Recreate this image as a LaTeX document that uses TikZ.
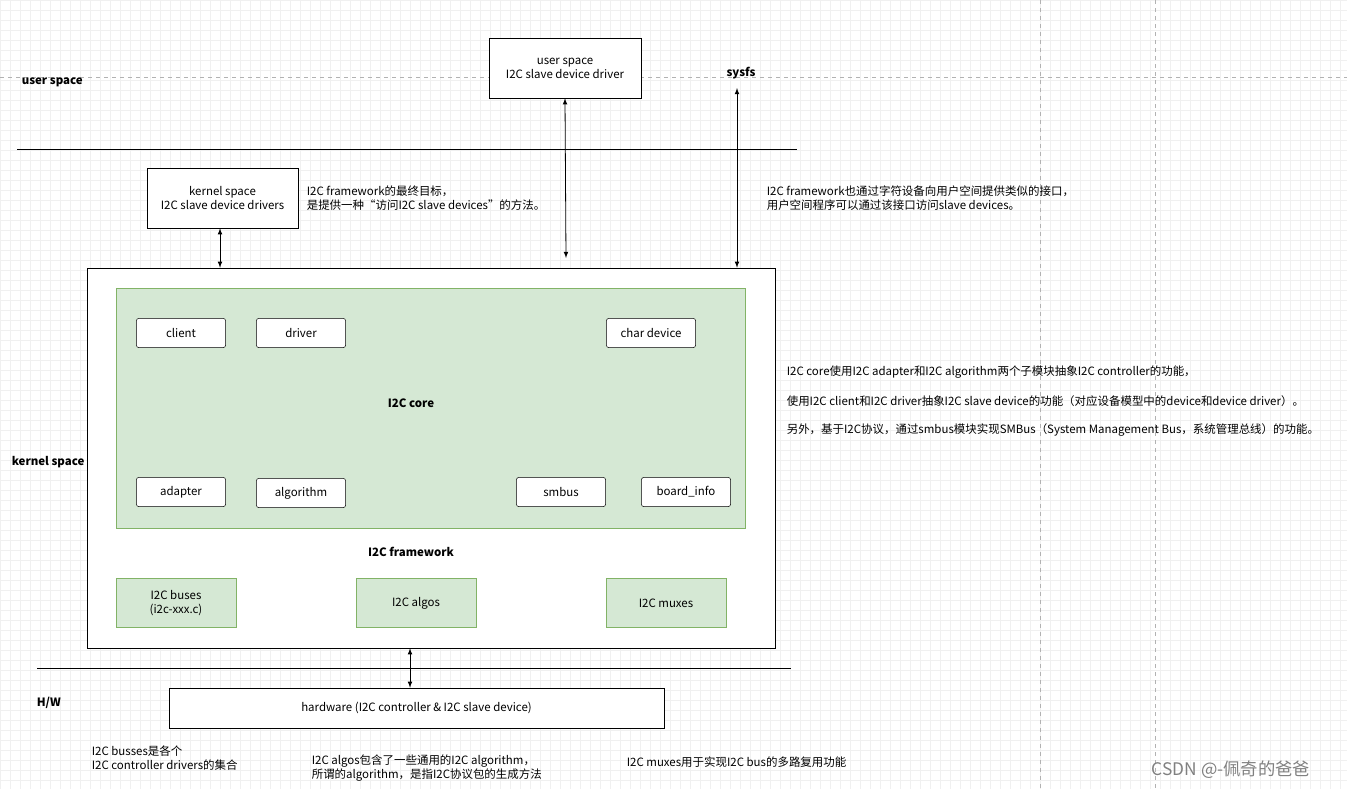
\documentclass[tikz,border=0pt]{standalone}
\usepackage{fontspec}
\setmainfont{Noto Sans CJK SC}
\usetikzlibrary{positioning,arrows}
\definecolor{corefill}{RGB}{213,232,212}
\definecolor{coredraw}{RGB}{130,179,102}
\begin{document}
\begin{tikzpicture}[x=0.75pt,y=-0.75pt,inner sep=0.4mm,font=\fontsize{8.6}{10.5}\selectfont,
  box/.style={draw,fill=white,align=center},
  core/.style={draw=coredraw,fill=corefill,align=center},
  small/.style={draw,fill=white,rounded corners=2pt,minimum width=67pt,minimum height=22pt},
  note/.style={align=left,anchor=west},
  lbl/.style={font=\fontsize{8.6}{10.5}\selectfont\bfseries},
  link/.style={latex-latex,semithick}]
	\useasboundingbox (0,0) rectangle (1347,789);
	% grid
	\draw [gray!12] (0,0) grid[step=7.5pt] (1347,789);
	\draw [gray!60,dashed] (0,77) -- (1347,77) (1040,0) -- (1040,789) (1155,0) -- (1155,789);

	\draw (17,149) -- (797,149);
	\draw (37,668) -- (791,668);

	\node [lbl,anchor=west] (usr) at (20,82) {user space};
	\node [lbl,anchor=west] (krn) at (10,462) {kernel space};
	\node [lbl,anchor=west] (hw) at (35,703) {H/W};

	\node [box,minimum width=114pt,minimum height=45pt] (udrv) at (565,68) {user space\\I2C slave device driver};
	\node [lbl] (sysfs) at (741,73) {sysfs};
	\coordinate (sysfsb) at (737,88);
	\node [box,minimum width=113pt,minimum height=45pt] (kdrv) at (222.5,198) {kernel space\\I2C slave device drivers};
	\node [note] (goal) at (305,198) {I2C framework的最终目标，\\是提供一种“访问I2C slave devices”的方法。};
	\node [note] (chr) at (765,198) {I2C framework也通过字符设备向用户空间提供类似的接口，\\用户空间程序可以通过该接口访问slave devices。};

	\node [draw,fill=white,minimum width=516pt,minimum height=285pt] (fw) at (431.5,458) {};
	\node [core,minimum width=472pt,minimum height=180pt] (cbox) at (431,408) {};
	\node [lbl] (ctxt) at (411,403) {I2C core};
	\node [lbl] (fwtxt) at (411,552) {I2C framework};

	\node [small] (client) at (181,333) {client};
	\node [small] (driver) at (301,333) {driver};
	\node [small] (chardev) at (651,333) {char device};
	\node [small] (adapter) at (181,492) {adapter};
	\node [small] (algo) at (301,493) {algorithm};
	\node [small] (smbus) at (561,492) {smbus};
	\node [small] (binfo) at (686,492) {board\_info};

	\node [core,minimum width=90pt,minimum height=37pt] (buses) at (176,603) {I2C buses\\(i2c-xxx.c)};
	\node [core,minimum width=90pt,minimum height=37pt] (algos) at (416,603) {I2C algos};
	\node [core,minimum width=90pt,minimum height=37pt] (muxes) at (666,603) {I2C muxes};

	\node [box,minimum width=371pt,minimum height=30pt] (hwbox) at (416.5,708) {hardware (I2C controller \& I2C slave device)};

	\draw [link] (kdrv.south -| 220,0) -- (fw.north -| 220,0);
	\draw [link] (udrv.south) -- (566,258);
	\draw [link] (sysfsb) -- (fw.north -| sysfsb);
	\draw [link] (fw.south -| 410,0) -- (hwbox.north -| 410,0);

	\node [note] (n1) at (785,372) {I2C core使用I2C adapter和I2C algorithm两个子模块抽象I2C controller的功能，};
	\node [note] (n2) at (785,401) {使用I2C client和I2C driver抽象I2C slave device的功能（对应设备模型中的device和device driver）。};
	\node [note] (n3) at (785,430) {另外，基于I2C协议，通过smbus模块实现SMBus（System Management Bus，系统管理总线）的功能。};

	\node [note] (b1) at (90,758) {I2C busses是各个\\I2C controller drivers的集合};
	\node [note] (b2) at (310,768) {I2C algos包含了一些通用的I2C algorithm，\\所谓的algorithm，是指I2C协议包的生成方法};
	\node [note] (b3) at (625,762) {I2C muxes用于实现I2C bus的多路复用功能};
	\node [note,text=gray,font=\fontsize{13}{15}\selectfont] (wm) at (1150,770) {CSDN @-佩奇的爸爸};
\end{tikzpicture}
\end{document}
